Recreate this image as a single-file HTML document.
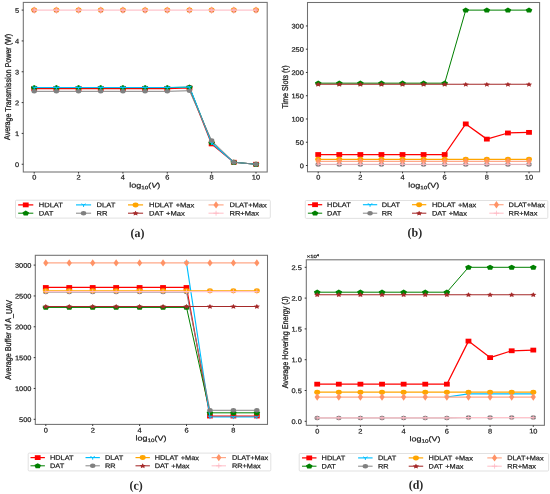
<!DOCTYPE html>
<html><head><meta charset="utf-8"><style>
html,body{margin:0;padding:0;background:#fff;width:550px;height:494px;overflow:hidden}
svg{display:block;text-rendering:geometricPrecision;will-change:transform}

</style></head><body>
<svg width="550" height="494" viewBox="0 0 550 494"><defs><filter id="bl" x="0" y="0" width="1" height="1"><feGaussianBlur stdDeviation="0.42"/></filter></defs><g filter="url(#bl)"><rect width="550" height="494" fill="#fff"/><rect x="23.3" y="2.4" width="243.9" height="169.6" fill="none" stroke="#707070" stroke-width="1.05"/>
<path d="M34.2,88.56 L56.38,88.56 L78.56,88.56 L100.74,88.56 L122.92,88.56 L145.1,88.56 L167.28,88.56 L189.46,87.95 L211.64,143.9 L233.82,162.25 L256,164.25" stroke="#ff0000" stroke-width="1.25" fill="none" stroke-linejoin="round"/>
<rect x="31.3" y="86.16" width="5.8" height="4.8" fill="#ff0000"/>
<rect x="53.48" y="86.16" width="5.8" height="4.8" fill="#ff0000"/>
<rect x="75.66" y="86.16" width="5.8" height="4.8" fill="#ff0000"/>
<rect x="97.84" y="86.16" width="5.8" height="4.8" fill="#ff0000"/>
<rect x="120.02" y="86.16" width="5.8" height="4.8" fill="#ff0000"/>
<rect x="142.2" y="86.16" width="5.8" height="4.8" fill="#ff0000"/>
<rect x="164.38" y="86.16" width="5.8" height="4.8" fill="#ff0000"/>
<rect x="186.56" y="85.55" width="5.8" height="4.8" fill="#ff0000"/>
<rect x="208.74" y="141.5" width="5.8" height="4.8" fill="#ff0000"/>
<rect x="230.92" y="159.85" width="5.8" height="4.8" fill="#ff0000"/>
<rect x="253.1" y="161.85" width="5.8" height="4.8" fill="#ff0000"/>
<path d="M34.2,87.64 L56.38,87.64 L78.56,87.64 L100.74,87.64 L122.92,87.64 L145.1,87.64 L167.28,87.64 L189.46,87.18 L211.64,142.67 L233.82,162.25 L256,164.25" stroke="#008000" stroke-width="1.0" fill="none" stroke-linejoin="round"/>
<polygon points="34.2,84.99 30.87,86.92 32.14,90.05 36.26,90.05 37.53,86.92" fill="#008000"/>
<polygon points="56.38,84.99 53.05,86.92 54.32,90.05 58.44,90.05 59.71,86.92" fill="#008000"/>
<polygon points="78.56,84.99 75.23,86.92 76.5,90.05 80.62,90.05 81.89,86.92" fill="#008000"/>
<polygon points="100.74,84.99 97.41,86.92 98.68,90.05 102.8,90.05 104.07,86.92" fill="#008000"/>
<polygon points="122.92,84.99 119.59,86.92 120.86,90.05 124.98,90.05 126.25,86.92" fill="#008000"/>
<polygon points="145.1,84.99 141.77,86.92 143.04,90.05 147.16,90.05 148.43,86.92" fill="#008000"/>
<polygon points="167.28,84.99 163.95,86.92 165.22,90.05 169.34,90.05 170.61,86.92" fill="#008000"/>
<polygon points="189.46,84.53 186.13,86.46 187.4,89.59 191.52,89.59 192.79,86.46" fill="#008000"/>
<polygon points="211.64,140.02 208.31,141.95 209.58,145.08 213.7,145.08 214.97,141.95" fill="#008000"/>
<polygon points="233.82,159.6 230.49,161.53 231.76,164.66 235.88,164.66 237.15,161.53" fill="#008000"/>
<polygon points="256,161.6 252.67,163.53 253.94,166.67 258.06,166.67 259.33,163.53" fill="#008000"/>
<path d="M34.2,87.48 L56.38,87.48 L78.56,87.48 L100.74,87.48 L122.92,87.48 L145.1,87.48 L167.28,87.48 L189.46,87.02 L211.64,142.98 L233.82,162.25 L256,164.25" stroke="#00bfff" stroke-width="1.15" fill="none" stroke-linejoin="round"/>
<path d="M34.2,87.48V89.56M34.2,87.48L31.95,86.44M34.2,87.48L36.45,86.44" stroke="#00bfff" stroke-width="1" fill="none"/>
<path d="M56.38,87.48V89.56M56.38,87.48L54.13,86.44M56.38,87.48L58.63,86.44" stroke="#00bfff" stroke-width="1" fill="none"/>
<path d="M78.56,87.48V89.56M78.56,87.48L76.31,86.44M78.56,87.48L80.81,86.44" stroke="#00bfff" stroke-width="1" fill="none"/>
<path d="M100.74,87.48V89.56M100.74,87.48L98.49,86.44M100.74,87.48L102.99,86.44" stroke="#00bfff" stroke-width="1" fill="none"/>
<path d="M122.92,87.48V89.56M122.92,87.48L120.67,86.44M122.92,87.48L125.17,86.44" stroke="#00bfff" stroke-width="1" fill="none"/>
<path d="M145.1,87.48V89.56M145.1,87.48L142.85,86.44M145.1,87.48L147.35,86.44" stroke="#00bfff" stroke-width="1" fill="none"/>
<path d="M167.28,87.48V89.56M167.28,87.48L165.03,86.44M167.28,87.48L169.53,86.44" stroke="#00bfff" stroke-width="1" fill="none"/>
<path d="M189.46,87.02V89.1M189.46,87.02L187.21,85.98M189.46,87.02L191.71,85.98" stroke="#00bfff" stroke-width="1" fill="none"/>
<path d="M211.64,142.98V145.06M211.64,142.98L209.39,141.94M211.64,142.98L213.89,141.94" stroke="#00bfff" stroke-width="1" fill="none"/>
<path d="M233.82,162.25V164.33M233.82,162.25L231.57,161.21M233.82,162.25L236.07,161.21" stroke="#00bfff" stroke-width="1" fill="none"/>
<path d="M256,164.25V166.33M256,164.25L253.75,163.21M256,164.25L258.25,163.21" stroke="#00bfff" stroke-width="1" fill="none"/>
<path d="M34.2,91.34 L56.38,91.34 L78.56,91.34 L100.74,91.34 L122.92,91.34 L145.1,91.34 L167.28,91.34 L189.46,90.72 L211.64,140.6 L233.82,162.25 L256,164.25" stroke="#808080" stroke-width="0.95" fill="none" stroke-linejoin="round"/>
<ellipse cx="34.2" cy="91.34" rx="2.7" ry="2.24" fill="#808080"/>
<ellipse cx="56.38" cy="91.34" rx="2.7" ry="2.24" fill="#808080"/>
<ellipse cx="78.56" cy="91.34" rx="2.7" ry="2.24" fill="#808080"/>
<ellipse cx="100.74" cy="91.34" rx="2.7" ry="2.24" fill="#808080"/>
<ellipse cx="122.92" cy="91.34" rx="2.7" ry="2.24" fill="#808080"/>
<ellipse cx="145.1" cy="91.34" rx="2.7" ry="2.24" fill="#808080"/>
<ellipse cx="167.28" cy="91.34" rx="2.7" ry="2.24" fill="#808080"/>
<ellipse cx="189.46" cy="90.72" rx="2.7" ry="2.24" fill="#808080"/>
<ellipse cx="211.64" cy="140.6" rx="2.7" ry="2.24" fill="#808080"/>
<ellipse cx="233.82" cy="162.25" rx="2.7" ry="2.24" fill="#808080"/>
<ellipse cx="256" cy="164.25" rx="2.7" ry="2.24" fill="#808080"/>
<ellipse cx="34.2" cy="10.1" rx="3" ry="2.49" fill="#ffa500"/>
<ellipse cx="56.38" cy="10.1" rx="3" ry="2.49" fill="#ffa500"/>
<ellipse cx="78.56" cy="10.1" rx="3" ry="2.49" fill="#ffa500"/>
<ellipse cx="100.74" cy="10.1" rx="3" ry="2.49" fill="#ffa500"/>
<ellipse cx="122.92" cy="10.1" rx="3" ry="2.49" fill="#ffa500"/>
<ellipse cx="145.1" cy="10.1" rx="3" ry="2.49" fill="#ffa500"/>
<ellipse cx="167.28" cy="10.1" rx="3" ry="2.49" fill="#ffa500"/>
<ellipse cx="189.46" cy="10.1" rx="3" ry="2.49" fill="#ffa500"/>
<ellipse cx="211.64" cy="10.1" rx="3" ry="2.49" fill="#ffa500"/>
<ellipse cx="233.82" cy="10.1" rx="3" ry="2.49" fill="#ffa500"/>
<ellipse cx="256" cy="10.1" rx="3" ry="2.49" fill="#ffa500"/>
<polygon points="34.2,7.66 33.23,9.23 31.06,9.48 32.63,10.71 32.26,12.44 34.2,11.62 36.14,12.44 35.77,10.71 37.34,9.48 35.17,9.23" fill="#a52a2a"/>
<polygon points="56.38,7.66 55.41,9.23 53.24,9.48 54.81,10.71 54.44,12.44 56.38,11.62 58.32,12.44 57.95,10.71 59.52,9.48 57.35,9.23" fill="#a52a2a"/>
<polygon points="78.56,7.66 77.59,9.23 75.42,9.48 76.99,10.71 76.62,12.44 78.56,11.62 80.5,12.44 80.13,10.71 81.7,9.48 79.53,9.23" fill="#a52a2a"/>
<polygon points="100.74,7.66 99.77,9.23 97.6,9.48 99.17,10.71 98.8,12.44 100.74,11.62 102.68,12.44 102.31,10.71 103.88,9.48 101.71,9.23" fill="#a52a2a"/>
<polygon points="122.92,7.66 121.95,9.23 119.78,9.48 121.35,10.71 120.98,12.44 122.92,11.62 124.86,12.44 124.49,10.71 126.06,9.48 123.89,9.23" fill="#a52a2a"/>
<polygon points="145.1,7.66 144.13,9.23 141.96,9.48 143.53,10.71 143.16,12.44 145.1,11.62 147.04,12.44 146.67,10.71 148.24,9.48 146.07,9.23" fill="#a52a2a"/>
<polygon points="167.28,7.66 166.31,9.23 164.14,9.48 165.71,10.71 165.34,12.44 167.28,11.62 169.22,12.44 168.85,10.71 170.42,9.48 168.25,9.23" fill="#a52a2a"/>
<polygon points="189.46,7.66 188.49,9.23 186.32,9.48 187.89,10.71 187.52,12.44 189.46,11.62 191.4,12.44 191.03,10.71 192.6,9.48 190.43,9.23" fill="#a52a2a"/>
<polygon points="211.64,7.66 210.67,9.23 208.5,9.48 210.07,10.71 209.7,12.44 211.64,11.62 213.58,12.44 213.21,10.71 214.78,9.48 212.61,9.23" fill="#a52a2a"/>
<polygon points="233.82,7.66 232.85,9.23 230.68,9.48 232.25,10.71 231.88,12.44 233.82,11.62 235.76,12.44 235.39,10.71 236.96,9.48 234.79,9.23" fill="#a52a2a"/>
<polygon points="256,7.66 255.03,9.23 252.86,9.48 254.43,10.71 254.06,12.44 256,11.62 257.94,12.44 257.57,10.71 259.14,9.48 256.97,9.23" fill="#a52a2a"/>
<polygon points="34.2,6.4 36.8,10.1 34.2,13.8 31.6,10.1" fill="#ff9366"/>
<polygon points="56.38,6.4 58.98,10.1 56.38,13.8 53.78,10.1" fill="#ff9366"/>
<polygon points="78.56,6.4 81.16,10.1 78.56,13.8 75.96,10.1" fill="#ff9366"/>
<polygon points="100.74,6.4 103.34,10.1 100.74,13.8 98.14,10.1" fill="#ff9366"/>
<polygon points="122.92,6.4 125.52,10.1 122.92,13.8 120.32,10.1" fill="#ff9366"/>
<polygon points="145.1,6.4 147.7,10.1 145.1,13.8 142.5,10.1" fill="#ff9366"/>
<polygon points="167.28,6.4 169.88,10.1 167.28,13.8 164.68,10.1" fill="#ff9366"/>
<polygon points="189.46,6.4 192.06,10.1 189.46,13.8 186.86,10.1" fill="#ff9366"/>
<polygon points="211.64,6.4 214.24,10.1 211.64,13.8 209.04,10.1" fill="#ff9366"/>
<polygon points="233.82,6.4 236.42,10.1 233.82,13.8 231.22,10.1" fill="#ff9366"/>
<polygon points="256,6.4 258.6,10.1 256,13.8 253.4,10.1" fill="#ff9366"/>
<path d="M34.2,10.1 L56.38,10.1 L78.56,10.1 L100.74,10.1 L122.92,10.1 L145.1,10.1 L167.28,10.1 L189.46,10.1 L211.64,10.1 L233.82,10.1 L256,10.1" stroke="#ffc4cc" stroke-width="1.1" fill="none" stroke-linejoin="round"/>
<path d="M31.5,10.1H36.9M34.2,7.6V12.6" stroke="#ffb6c1" stroke-width="0.75" fill="none"/>
<path d="M53.68,10.1H59.08M56.38,7.6V12.6" stroke="#ffb6c1" stroke-width="0.75" fill="none"/>
<path d="M75.86,10.1H81.26M78.56,7.6V12.6" stroke="#ffb6c1" stroke-width="0.75" fill="none"/>
<path d="M98.04,10.1H103.44M100.74,7.6V12.6" stroke="#ffb6c1" stroke-width="0.75" fill="none"/>
<path d="M120.22,10.1H125.62M122.92,7.6V12.6" stroke="#ffb6c1" stroke-width="0.75" fill="none"/>
<path d="M142.4,10.1H147.8M145.1,7.6V12.6" stroke="#ffb6c1" stroke-width="0.75" fill="none"/>
<path d="M164.58,10.1H169.98M167.28,7.6V12.6" stroke="#ffb6c1" stroke-width="0.75" fill="none"/>
<path d="M186.76,10.1H192.16M189.46,7.6V12.6" stroke="#ffb6c1" stroke-width="0.75" fill="none"/>
<path d="M208.94,10.1H214.34M211.64,7.6V12.6" stroke="#ffb6c1" stroke-width="0.75" fill="none"/>
<path d="M231.12,10.1H236.52M233.82,7.6V12.6" stroke="#ffb6c1" stroke-width="0.75" fill="none"/>
<path d="M253.3,10.1H258.7M256,7.6V12.6" stroke="#ffb6c1" stroke-width="0.75" fill="none"/>
<line x1="34.2" y1="172" x2="34.2" y2="173.6" stroke="#222" stroke-width="0.9"/>
<text transform="translate(34.2,179.5) skewY(0.5) scale(0.1060,0.0960)" font-family="Liberation Sans" font-size="70" font-weight="normal" text-anchor="middle" fill="#222" stroke="#222" stroke-width="2.2">0</text>
<line x1="78.56" y1="172" x2="78.56" y2="173.6" stroke="#222" stroke-width="0.9"/>
<text transform="translate(78.56,179.5) skewY(0.5) scale(0.1060,0.0960)" font-family="Liberation Sans" font-size="70" font-weight="normal" text-anchor="middle" fill="#222" stroke="#222" stroke-width="2.2">2</text>
<line x1="122.92" y1="172" x2="122.92" y2="173.6" stroke="#222" stroke-width="0.9"/>
<text transform="translate(122.92,179.5) skewY(0.5) scale(0.1060,0.0960)" font-family="Liberation Sans" font-size="70" font-weight="normal" text-anchor="middle" fill="#222" stroke="#222" stroke-width="2.2">4</text>
<line x1="167.28" y1="172" x2="167.28" y2="173.6" stroke="#222" stroke-width="0.9"/>
<text transform="translate(167.28,179.5) skewY(0.5) scale(0.1060,0.0960)" font-family="Liberation Sans" font-size="70" font-weight="normal" text-anchor="middle" fill="#222" stroke="#222" stroke-width="2.2">6</text>
<line x1="211.64" y1="172" x2="211.64" y2="173.6" stroke="#222" stroke-width="0.9"/>
<text transform="translate(211.64,179.5) skewY(0.5) scale(0.1060,0.0960)" font-family="Liberation Sans" font-size="70" font-weight="normal" text-anchor="middle" fill="#222" stroke="#222" stroke-width="2.2">8</text>
<line x1="256" y1="172" x2="256" y2="173.6" stroke="#222" stroke-width="0.9"/>
<text transform="translate(256,179.5) skewY(0.5) scale(0.1060,0.0960)" font-family="Liberation Sans" font-size="70" font-weight="normal" text-anchor="middle" fill="#222" stroke="#222" stroke-width="2.2">10</text>
<line x1="23.3" y1="164.25" x2="21.7" y2="164.25" stroke="#222" stroke-width="0.9"/>
<text transform="translate(19.2,166.95) skewY(0.5) scale(0.1060,0.0960)" font-family="Liberation Sans" font-size="70" font-weight="normal" text-anchor="end" fill="#222" stroke="#222" stroke-width="2.2">0</text>
<line x1="23.3" y1="133.42" x2="21.7" y2="133.42" stroke="#222" stroke-width="0.9"/>
<text transform="translate(19.2,136.12) skewY(0.5) scale(0.1060,0.0960)" font-family="Liberation Sans" font-size="70" font-weight="normal" text-anchor="end" fill="#222" stroke="#222" stroke-width="2.2">1</text>
<line x1="23.3" y1="102.59" x2="21.7" y2="102.59" stroke="#222" stroke-width="0.9"/>
<text transform="translate(19.2,105.29) skewY(0.5) scale(0.1060,0.0960)" font-family="Liberation Sans" font-size="70" font-weight="normal" text-anchor="end" fill="#222" stroke="#222" stroke-width="2.2">2</text>
<line x1="23.3" y1="71.76" x2="21.7" y2="71.76" stroke="#222" stroke-width="0.9"/>
<text transform="translate(19.2,74.46) skewY(0.5) scale(0.1060,0.0960)" font-family="Liberation Sans" font-size="70" font-weight="normal" text-anchor="end" fill="#222" stroke="#222" stroke-width="2.2">3</text>
<line x1="23.3" y1="40.93" x2="21.7" y2="40.93" stroke="#222" stroke-width="0.9"/>
<text transform="translate(19.2,43.63) skewY(0.5) scale(0.1060,0.0960)" font-family="Liberation Sans" font-size="70" font-weight="normal" text-anchor="end" fill="#222" stroke="#222" stroke-width="2.2">4</text>
<line x1="23.3" y1="10.1" x2="21.7" y2="10.1" stroke="#222" stroke-width="0.9"/>
<text transform="translate(19.2,12.8) skewY(0.5) scale(0.1060,0.0960)" font-family="Liberation Sans" font-size="70" font-weight="normal" text-anchor="end" fill="#222" stroke="#222" stroke-width="2.2">5</text>
<text transform="translate(10.7,86.9) rotate(-89.7) scale(0.0840,0.1000)" font-family="Liberation Sans" font-size="85" font-weight="normal" text-anchor="middle" fill="#222" stroke="#222" stroke-width="3">Average Transmission Power (W)</text>
<text transform="translate(144.8,187.7) skewY(0.5) scale(0.1200,0.0950)" font-family="Liberation Sans" font-size="75" font-weight="normal" text-anchor="middle" fill="#222" stroke="#222" stroke-width="2.2">log<tspan font-size="52.5" dy="16">10</tspan><tspan dy="-16">(</tspan><tspan font-style="italic">V</tspan>)</text>
<rect x="15.5" y="200.2" width="254.8" height="17.9" fill="#fff" stroke="#d9d9d9" stroke-width="0.8" rx="1"/>
<line x1="18.2" y1="204.9" x2="33.3" y2="204.9" stroke="#ff0000" stroke-width="1.25"/>
<rect x="22.85" y="202.5" width="5.8" height="4.8" fill="#ff0000"/>
<text transform="translate(38.8,207.1) skewY(0.5) scale(0.1090,0.0950)" font-family="Liberation Sans" font-size="69" font-weight="normal" text-anchor="start" fill="#222" stroke="#222" stroke-width="2.2">HDLAT</text>
<line x1="18.2" y1="213.2" x2="33.3" y2="213.2" stroke="#008000" stroke-width="1.0"/>
<polygon points="25.75,210.55 22.42,212.48 23.69,215.62 27.81,215.62 29.08,212.48" fill="#008000"/>
<text transform="translate(38.8,215.4) skewY(0.5) scale(0.1090,0.0950)" font-family="Liberation Sans" font-size="69" font-weight="normal" text-anchor="start" fill="#222" stroke="#222" stroke-width="2.2">DAT</text>
<line x1="76" y1="204.9" x2="91.1" y2="204.9" stroke="#00bfff" stroke-width="1.15"/>
<path d="M83.55,204.9V206.98M83.55,204.9L81.3,203.86M83.55,204.9L85.8,203.86" stroke="#00bfff" stroke-width="1" fill="none"/>
<text transform="translate(96.6,207.1) skewY(0.5) scale(0.1090,0.0950)" font-family="Liberation Sans" font-size="69" font-weight="normal" text-anchor="start" fill="#222" stroke="#222" stroke-width="2.2">DLAT</text>
<line x1="76" y1="213.2" x2="91.1" y2="213.2" stroke="#808080" stroke-width="0.95"/>
<ellipse cx="83.55" cy="213.2" rx="2.7" ry="2.24" fill="#808080"/>
<text transform="translate(96.6,215.4) skewY(0.5) scale(0.1090,0.0950)" font-family="Liberation Sans" font-size="69" font-weight="normal" text-anchor="start" fill="#222" stroke="#222" stroke-width="2.2">RR</text>
<line x1="128" y1="204.9" x2="143.1" y2="204.9" stroke="#ffa500" stroke-width="1.2"/>
<ellipse cx="135.55" cy="204.9" rx="3" ry="2.49" fill="#ffa500"/>
<text transform="translate(149,207.1) skewY(0.5) scale(0.1090,0.0950)" font-family="Liberation Sans" font-size="69" font-weight="normal" text-anchor="start" fill="#222" stroke="#222" stroke-width="2.2">HDLAT  +Max</text>
<line x1="128" y1="213.2" x2="143.1" y2="213.2" stroke="#a52a2a" stroke-width="1.05"/>
<polygon points="135.55,210.76 134.58,212.33 132.41,212.58 133.98,213.81 133.61,215.54 135.55,214.72 137.49,215.54 137.12,213.81 138.69,212.58 136.52,212.33" fill="#a52a2a"/>
<text transform="translate(149,215.4) skewY(0.5) scale(0.1090,0.0950)" font-family="Liberation Sans" font-size="69" font-weight="normal" text-anchor="start" fill="#222" stroke="#222" stroke-width="2.2">DAT  +Max</text>
<line x1="208.5" y1="204.9" x2="223.6" y2="204.9" stroke="#ffa888" stroke-width="1.2"/>
<polygon points="216.05,201.2 218.65,204.9 216.05,208.6 213.45,204.9" fill="#ff9366"/>
<text transform="translate(229.5,207.1) skewY(0.5) scale(0.1090,0.0950)" font-family="Liberation Sans" font-size="69" font-weight="normal" text-anchor="start" fill="#222" stroke="#222" stroke-width="2.2">DLAT+Max</text>
<line x1="208.5" y1="213.2" x2="223.6" y2="213.2" stroke="#ffc4cc" stroke-width="1.1"/>
<path d="M213.35,213.2H218.75M216.05,210.7V215.7" stroke="#ffb6c1" stroke-width="0.75" fill="none"/>
<text transform="translate(229.5,215.4) skewY(0.5) scale(0.1090,0.0950)" font-family="Liberation Sans" font-size="69" font-weight="normal" text-anchor="start" fill="#222" stroke="#222" stroke-width="2.2">RR+Max</text>
<text transform="translate(137.6,237) skewY(0.5) scale(0.1000,0.1030)" font-family="Liberation Serif" font-size="120" font-weight="bold" text-anchor="middle" fill="#2a2a2a">(a)</text>
<rect x="307.5" y="2.5" width="232.1" height="169.3" fill="none" stroke="#707070" stroke-width="1.05"/>
<path d="M318.2,154.52 L339.28,154.52 L360.36,154.52 L381.44,154.52 L402.52,154.52 L423.6,154.52 L444.68,154.52 L465.76,123.91 L486.84,139.12 L507.92,132.98 L529,132.38" stroke="#ff0000" stroke-width="1.25" fill="none" stroke-linejoin="round"/>
<rect x="315.3" y="152.12" width="5.8" height="4.8" fill="#ff0000"/>
<rect x="336.38" y="152.12" width="5.8" height="4.8" fill="#ff0000"/>
<rect x="357.46" y="152.12" width="5.8" height="4.8" fill="#ff0000"/>
<rect x="378.54" y="152.12" width="5.8" height="4.8" fill="#ff0000"/>
<rect x="399.62" y="152.12" width="5.8" height="4.8" fill="#ff0000"/>
<rect x="420.7" y="152.12" width="5.8" height="4.8" fill="#ff0000"/>
<rect x="441.78" y="152.12" width="5.8" height="4.8" fill="#ff0000"/>
<rect x="462.86" y="121.51" width="5.8" height="4.8" fill="#ff0000"/>
<rect x="483.94" y="136.72" width="5.8" height="4.8" fill="#ff0000"/>
<rect x="505.02" y="130.58" width="5.8" height="4.8" fill="#ff0000"/>
<rect x="526.1" y="129.98" width="5.8" height="4.8" fill="#ff0000"/>
<path d="M318.2,83.16 L339.28,83.16 L360.36,83.16 L381.44,83.16 L402.52,83.16 L423.6,83.16 L444.68,83.16 L465.76,10.12 L486.84,10.12 L507.92,10.12 L529,10.12" stroke="#008000" stroke-width="1.0" fill="none" stroke-linejoin="round"/>
<polygon points="318.2,80.51 314.87,82.44 316.14,85.57 320.26,85.57 321.53,82.44" fill="#008000"/>
<polygon points="339.28,80.51 335.95,82.44 337.22,85.57 341.34,85.57 342.61,82.44" fill="#008000"/>
<polygon points="360.36,80.51 357.03,82.44 358.3,85.57 362.42,85.57 363.69,82.44" fill="#008000"/>
<polygon points="381.44,80.51 378.11,82.44 379.38,85.57 383.5,85.57 384.77,82.44" fill="#008000"/>
<polygon points="402.52,80.51 399.19,82.44 400.46,85.57 404.58,85.57 405.85,82.44" fill="#008000"/>
<polygon points="423.6,80.51 420.27,82.44 421.54,85.57 425.66,85.57 426.93,82.44" fill="#008000"/>
<polygon points="444.68,80.51 441.35,82.44 442.62,85.57 446.74,85.57 448.01,82.44" fill="#008000"/>
<polygon points="465.76,7.47 462.43,9.41 463.7,12.54 467.82,12.54 469.09,9.41" fill="#008000"/>
<polygon points="486.84,7.47 483.51,9.41 484.78,12.54 488.9,12.54 490.17,9.41" fill="#008000"/>
<polygon points="507.92,7.47 504.59,9.41 505.86,12.54 509.98,12.54 511.25,9.41" fill="#008000"/>
<polygon points="529,7.47 525.67,9.41 526.94,12.54 531.06,12.54 532.33,9.41" fill="#008000"/>
<path d="M318.2,164.29V166.37M318.2,164.29L315.95,163.25M318.2,164.29L320.45,163.25" stroke="#00bfff" stroke-width="1" fill="none"/>
<path d="M339.28,164.29V166.37M339.28,164.29L337.03,163.25M339.28,164.29L341.53,163.25" stroke="#00bfff" stroke-width="1" fill="none"/>
<path d="M360.36,164.29V166.37M360.36,164.29L358.11,163.25M360.36,164.29L362.61,163.25" stroke="#00bfff" stroke-width="1" fill="none"/>
<path d="M381.44,164.29V166.37M381.44,164.29L379.19,163.25M381.44,164.29L383.69,163.25" stroke="#00bfff" stroke-width="1" fill="none"/>
<path d="M402.52,164.29V166.37M402.52,164.29L400.27,163.25M402.52,164.29L404.77,163.25" stroke="#00bfff" stroke-width="1" fill="none"/>
<path d="M423.6,164.29V166.37M423.6,164.29L421.35,163.25M423.6,164.29L425.85,163.25" stroke="#00bfff" stroke-width="1" fill="none"/>
<path d="M444.68,164.29V166.37M444.68,164.29L442.43,163.25M444.68,164.29L446.93,163.25" stroke="#00bfff" stroke-width="1" fill="none"/>
<path d="M465.76,164.29V166.37M465.76,164.29L463.51,163.25M465.76,164.29L468.01,163.25" stroke="#00bfff" stroke-width="1" fill="none"/>
<path d="M486.84,164.29V166.37M486.84,164.29L484.59,163.25M486.84,164.29L489.09,163.25" stroke="#00bfff" stroke-width="1" fill="none"/>
<path d="M507.92,164.29V166.37M507.92,164.29L505.67,163.25M507.92,164.29L510.17,163.25" stroke="#00bfff" stroke-width="1" fill="none"/>
<path d="M529,164.29V166.37M529,164.29L526.75,163.25M529,164.29L531.25,163.25" stroke="#00bfff" stroke-width="1" fill="none"/>
<path d="M318.2,164.52 L339.28,164.52 L360.36,164.52 L381.44,164.52 L402.52,164.52 L423.6,164.52 L444.68,164.52 L465.76,164.52 L486.84,164.52 L507.92,164.52 L529,164.52" stroke="#808080" stroke-width="0.95" fill="none" stroke-linejoin="round"/>
<ellipse cx="318.2" cy="164.52" rx="2.7" ry="2.24" fill="#808080"/>
<ellipse cx="339.28" cy="164.52" rx="2.7" ry="2.24" fill="#808080"/>
<ellipse cx="360.36" cy="164.52" rx="2.7" ry="2.24" fill="#808080"/>
<ellipse cx="381.44" cy="164.52" rx="2.7" ry="2.24" fill="#808080"/>
<ellipse cx="402.52" cy="164.52" rx="2.7" ry="2.24" fill="#808080"/>
<ellipse cx="423.6" cy="164.52" rx="2.7" ry="2.24" fill="#808080"/>
<ellipse cx="444.68" cy="164.52" rx="2.7" ry="2.24" fill="#808080"/>
<ellipse cx="465.76" cy="164.52" rx="2.7" ry="2.24" fill="#808080"/>
<ellipse cx="486.84" cy="164.52" rx="2.7" ry="2.24" fill="#808080"/>
<ellipse cx="507.92" cy="164.52" rx="2.7" ry="2.24" fill="#808080"/>
<ellipse cx="529" cy="164.52" rx="2.7" ry="2.24" fill="#808080"/>
<path d="M318.2,159.31 L339.28,159.31 L360.36,159.31 L381.44,159.31 L402.52,159.31 L423.6,159.31 L444.68,159.31 L465.76,159.31 L486.84,159.31 L507.92,159.31 L529,159.31" stroke="#ffa500" stroke-width="1.2" fill="none" stroke-linejoin="round"/>
<ellipse cx="318.2" cy="159.31" rx="3" ry="2.49" fill="#ffa500"/>
<ellipse cx="339.28" cy="159.31" rx="3" ry="2.49" fill="#ffa500"/>
<ellipse cx="360.36" cy="159.31" rx="3" ry="2.49" fill="#ffa500"/>
<ellipse cx="381.44" cy="159.31" rx="3" ry="2.49" fill="#ffa500"/>
<ellipse cx="402.52" cy="159.31" rx="3" ry="2.49" fill="#ffa500"/>
<ellipse cx="423.6" cy="159.31" rx="3" ry="2.49" fill="#ffa500"/>
<ellipse cx="444.68" cy="159.31" rx="3" ry="2.49" fill="#ffa500"/>
<ellipse cx="465.76" cy="159.31" rx="3" ry="2.49" fill="#ffa500"/>
<ellipse cx="486.84" cy="159.31" rx="3" ry="2.49" fill="#ffa500"/>
<ellipse cx="507.92" cy="159.31" rx="3" ry="2.49" fill="#ffa500"/>
<ellipse cx="529" cy="159.31" rx="3" ry="2.49" fill="#ffa500"/>
<path d="M318.2,84.32 L339.28,84.32 L360.36,84.32 L381.44,84.32 L402.52,84.32 L423.6,84.32 L444.68,84.32 L465.76,84.32 L486.84,84.32 L507.92,84.32 L529,84.32" stroke="#a52a2a" stroke-width="1.05" fill="none" stroke-linejoin="round"/>
<polygon points="318.2,81.88 317.23,83.45 315.06,83.71 316.63,84.93 316.26,86.66 318.2,85.84 320.14,86.66 319.77,84.93 321.34,83.71 319.17,83.45" fill="#a52a2a"/>
<polygon points="339.28,81.88 338.31,83.45 336.14,83.71 337.71,84.93 337.34,86.66 339.28,85.84 341.22,86.66 340.85,84.93 342.42,83.71 340.25,83.45" fill="#a52a2a"/>
<polygon points="360.36,81.88 359.39,83.45 357.22,83.71 358.79,84.93 358.42,86.66 360.36,85.84 362.3,86.66 361.93,84.93 363.5,83.71 361.33,83.45" fill="#a52a2a"/>
<polygon points="381.44,81.88 380.47,83.45 378.3,83.71 379.87,84.93 379.5,86.66 381.44,85.84 383.38,86.66 383.01,84.93 384.58,83.71 382.41,83.45" fill="#a52a2a"/>
<polygon points="402.52,81.88 401.55,83.45 399.38,83.71 400.95,84.93 400.58,86.66 402.52,85.84 404.46,86.66 404.09,84.93 405.66,83.71 403.49,83.45" fill="#a52a2a"/>
<polygon points="423.6,81.88 422.63,83.45 420.46,83.71 422.03,84.93 421.66,86.66 423.6,85.84 425.54,86.66 425.17,84.93 426.74,83.71 424.57,83.45" fill="#a52a2a"/>
<polygon points="444.68,81.88 443.71,83.45 441.54,83.71 443.11,84.93 442.74,86.66 444.68,85.84 446.62,86.66 446.25,84.93 447.82,83.71 445.65,83.45" fill="#a52a2a"/>
<polygon points="465.76,81.88 464.79,83.45 462.62,83.71 464.19,84.93 463.82,86.66 465.76,85.84 467.7,86.66 467.33,84.93 468.9,83.71 466.73,83.45" fill="#a52a2a"/>
<polygon points="486.84,81.88 485.87,83.45 483.7,83.71 485.27,84.93 484.9,86.66 486.84,85.84 488.78,86.66 488.41,84.93 489.98,83.71 487.81,83.45" fill="#a52a2a"/>
<polygon points="507.92,81.88 506.95,83.45 504.78,83.71 506.35,84.93 505.98,86.66 507.92,85.84 509.86,86.66 509.49,84.93 511.06,83.71 508.89,83.45" fill="#a52a2a"/>
<polygon points="529,81.88 528.03,83.45 525.86,83.71 527.43,84.93 527.06,86.66 529,85.84 530.94,86.66 530.57,84.93 532.14,83.71 529.97,83.45" fill="#a52a2a"/>
<path d="M318.2,161.41 L339.28,161.41 L360.36,161.41 L381.44,161.41 L402.52,161.41 L423.6,161.41 L444.68,161.41 L465.76,161.41 L486.84,161.41 L507.92,161.41 L529,161.41" stroke="#ffa888" stroke-width="1.2" fill="none" stroke-linejoin="round"/>
<polygon points="318.2,157.71 320.8,161.41 318.2,165.11 315.6,161.41" fill="#ff9366"/>
<polygon points="339.28,157.71 341.88,161.41 339.28,165.11 336.68,161.41" fill="#ff9366"/>
<polygon points="360.36,157.71 362.96,161.41 360.36,165.11 357.76,161.41" fill="#ff9366"/>
<polygon points="381.44,157.71 384.04,161.41 381.44,165.11 378.84,161.41" fill="#ff9366"/>
<polygon points="402.52,157.71 405.12,161.41 402.52,165.11 399.92,161.41" fill="#ff9366"/>
<polygon points="423.6,157.71 426.2,161.41 423.6,165.11 421,161.41" fill="#ff9366"/>
<polygon points="444.68,157.71 447.28,161.41 444.68,165.11 442.08,161.41" fill="#ff9366"/>
<polygon points="465.76,157.71 468.36,161.41 465.76,165.11 463.16,161.41" fill="#ff9366"/>
<polygon points="486.84,157.71 489.44,161.41 486.84,165.11 484.24,161.41" fill="#ff9366"/>
<polygon points="507.92,157.71 510.52,161.41 507.92,165.11 505.32,161.41" fill="#ff9366"/>
<polygon points="529,157.71 531.6,161.41 529,165.11 526.4,161.41" fill="#ff9366"/>
<path d="M318.2,164.29 L339.28,164.29 L360.36,164.29 L381.44,164.29 L402.52,164.29 L423.6,164.29 L444.68,164.29 L465.76,164.29 L486.84,164.29 L507.92,164.29 L529,164.29" stroke="#ffc4cc" stroke-width="1.1" fill="none" stroke-linejoin="round"/>
<path d="M315.5,164.29H320.9M318.2,161.79V166.79" stroke="#ffb6c1" stroke-width="0.75" fill="none"/>
<path d="M336.58,164.29H341.98M339.28,161.79V166.79" stroke="#ffb6c1" stroke-width="0.75" fill="none"/>
<path d="M357.66,164.29H363.06M360.36,161.79V166.79" stroke="#ffb6c1" stroke-width="0.75" fill="none"/>
<path d="M378.74,164.29H384.14M381.44,161.79V166.79" stroke="#ffb6c1" stroke-width="0.75" fill="none"/>
<path d="M399.82,164.29H405.22M402.52,161.79V166.79" stroke="#ffb6c1" stroke-width="0.75" fill="none"/>
<path d="M420.9,164.29H426.3M423.6,161.79V166.79" stroke="#ffb6c1" stroke-width="0.75" fill="none"/>
<path d="M441.98,164.29H447.38M444.68,161.79V166.79" stroke="#ffb6c1" stroke-width="0.75" fill="none"/>
<path d="M463.06,164.29H468.46M465.76,161.79V166.79" stroke="#ffb6c1" stroke-width="0.75" fill="none"/>
<path d="M484.14,164.29H489.54M486.84,161.79V166.79" stroke="#ffb6c1" stroke-width="0.75" fill="none"/>
<path d="M505.22,164.29H510.62M507.92,161.79V166.79" stroke="#ffb6c1" stroke-width="0.75" fill="none"/>
<path d="M526.3,164.29H531.7M529,161.79V166.79" stroke="#ffb6c1" stroke-width="0.75" fill="none"/>
<line x1="318.2" y1="171.8" x2="318.2" y2="173.4" stroke="#222" stroke-width="0.9"/>
<text transform="translate(318.2,179.5) skewY(0.5) scale(0.1060,0.0960)" font-family="Liberation Sans" font-size="70" font-weight="normal" text-anchor="middle" fill="#222" stroke="#222" stroke-width="2.2">0</text>
<line x1="360.36" y1="171.8" x2="360.36" y2="173.4" stroke="#222" stroke-width="0.9"/>
<text transform="translate(360.36,179.5) skewY(0.5) scale(0.1060,0.0960)" font-family="Liberation Sans" font-size="70" font-weight="normal" text-anchor="middle" fill="#222" stroke="#222" stroke-width="2.2">2</text>
<line x1="402.52" y1="171.8" x2="402.52" y2="173.4" stroke="#222" stroke-width="0.9"/>
<text transform="translate(402.52,179.5) skewY(0.5) scale(0.1060,0.0960)" font-family="Liberation Sans" font-size="70" font-weight="normal" text-anchor="middle" fill="#222" stroke="#222" stroke-width="2.2">4</text>
<line x1="444.68" y1="171.8" x2="444.68" y2="173.4" stroke="#222" stroke-width="0.9"/>
<text transform="translate(444.68,179.5) skewY(0.5) scale(0.1060,0.0960)" font-family="Liberation Sans" font-size="70" font-weight="normal" text-anchor="middle" fill="#222" stroke="#222" stroke-width="2.2">6</text>
<line x1="486.84" y1="171.8" x2="486.84" y2="173.4" stroke="#222" stroke-width="0.9"/>
<text transform="translate(486.84,179.5) skewY(0.5) scale(0.1060,0.0960)" font-family="Liberation Sans" font-size="70" font-weight="normal" text-anchor="middle" fill="#222" stroke="#222" stroke-width="2.2">8</text>
<line x1="529" y1="171.8" x2="529" y2="173.4" stroke="#222" stroke-width="0.9"/>
<text transform="translate(529,179.5) skewY(0.5) scale(0.1060,0.0960)" font-family="Liberation Sans" font-size="70" font-weight="normal" text-anchor="middle" fill="#222" stroke="#222" stroke-width="2.2">10</text>
<line x1="307.5" y1="165.5" x2="305.9" y2="165.5" stroke="#222" stroke-width="0.9"/>
<text transform="translate(303.8,168.2) skewY(0.5) scale(0.1060,0.0960)" font-family="Liberation Sans" font-size="70" font-weight="normal" text-anchor="end" fill="#222" stroke="#222" stroke-width="2.2">0</text>
<line x1="307.5" y1="142.24" x2="305.9" y2="142.24" stroke="#222" stroke-width="0.9"/>
<text transform="translate(303.8,144.94) skewY(0.5) scale(0.1060,0.0960)" font-family="Liberation Sans" font-size="70" font-weight="normal" text-anchor="end" fill="#222" stroke="#222" stroke-width="2.2">50</text>
<line x1="307.5" y1="118.98" x2="305.9" y2="118.98" stroke="#222" stroke-width="0.9"/>
<text transform="translate(303.8,121.68) skewY(0.5) scale(0.1060,0.0960)" font-family="Liberation Sans" font-size="70" font-weight="normal" text-anchor="end" fill="#222" stroke="#222" stroke-width="2.2">100</text>
<line x1="307.5" y1="95.72" x2="305.9" y2="95.72" stroke="#222" stroke-width="0.9"/>
<text transform="translate(303.8,98.42) skewY(0.5) scale(0.1060,0.0960)" font-family="Liberation Sans" font-size="70" font-weight="normal" text-anchor="end" fill="#222" stroke="#222" stroke-width="2.2">150</text>
<line x1="307.5" y1="72.46" x2="305.9" y2="72.46" stroke="#222" stroke-width="0.9"/>
<text transform="translate(303.8,75.16) skewY(0.5) scale(0.1060,0.0960)" font-family="Liberation Sans" font-size="70" font-weight="normal" text-anchor="end" fill="#222" stroke="#222" stroke-width="2.2">200</text>
<line x1="307.5" y1="49.2" x2="305.9" y2="49.2" stroke="#222" stroke-width="0.9"/>
<text transform="translate(303.8,51.9) skewY(0.5) scale(0.1060,0.0960)" font-family="Liberation Sans" font-size="70" font-weight="normal" text-anchor="end" fill="#222" stroke="#222" stroke-width="2.2">250</text>
<line x1="307.5" y1="25.94" x2="305.9" y2="25.94" stroke="#222" stroke-width="0.9"/>
<text transform="translate(303.8,28.64) skewY(0.5) scale(0.1060,0.0960)" font-family="Liberation Sans" font-size="70" font-weight="normal" text-anchor="end" fill="#222" stroke="#222" stroke-width="2.2">300</text>
<text transform="translate(287.7,87) rotate(-89.7) scale(0.0840,0.1000)" font-family="Liberation Sans" font-size="85" font-weight="normal" text-anchor="middle" fill="#222" stroke="#222" stroke-width="3">Time Slots (τ)</text>
<text transform="translate(423.7,187.7) skewY(0.5) scale(0.1200,0.0950)" font-family="Liberation Sans" font-size="75" font-weight="normal" text-anchor="middle" fill="#222" stroke="#222" stroke-width="2.2">log<tspan font-size="52.5" dy="16">10</tspan><tspan dy="-16">(</tspan>V)</text>
<rect x="305.3" y="200.5" width="242.5" height="17.9" fill="#fff" stroke="#d9d9d9" stroke-width="0.8" rx="1"/>
<line x1="307.9" y1="204.7" x2="322.2" y2="204.7" stroke="#ff0000" stroke-width="1.25"/>
<rect x="312.15" y="202.3" width="5.8" height="4.8" fill="#ff0000"/>
<text transform="translate(327.1,206.9) skewY(0.5) scale(0.1080,0.0950)" font-family="Liberation Sans" font-size="68" font-weight="normal" text-anchor="start" fill="#222" stroke="#222" stroke-width="2.2">HDLAT</text>
<line x1="307.9" y1="213.2" x2="322.2" y2="213.2" stroke="#008000" stroke-width="1.0"/>
<polygon points="315.05,210.55 311.72,212.48 312.99,215.62 317.11,215.62 318.38,212.48" fill="#008000"/>
<text transform="translate(327.1,215.4) skewY(0.5) scale(0.1080,0.0950)" font-family="Liberation Sans" font-size="68" font-weight="normal" text-anchor="start" fill="#222" stroke="#222" stroke-width="2.2">DAT</text>
<line x1="362.9" y1="204.7" x2="377.2" y2="204.7" stroke="#00bfff" stroke-width="1.15"/>
<path d="M370.05,204.7V206.78M370.05,204.7L367.8,203.66M370.05,204.7L372.3,203.66" stroke="#00bfff" stroke-width="1" fill="none"/>
<text transform="translate(381.7,206.9) skewY(0.5) scale(0.1080,0.0950)" font-family="Liberation Sans" font-size="68" font-weight="normal" text-anchor="start" fill="#222" stroke="#222" stroke-width="2.2">DLAT</text>
<line x1="362.9" y1="213.2" x2="377.2" y2="213.2" stroke="#808080" stroke-width="0.95"/>
<ellipse cx="370.05" cy="213.2" rx="2.7" ry="2.24" fill="#808080"/>
<text transform="translate(381.7,215.4) skewY(0.5) scale(0.1080,0.0950)" font-family="Liberation Sans" font-size="68" font-weight="normal" text-anchor="start" fill="#222" stroke="#222" stroke-width="2.2">RR</text>
<line x1="412" y1="204.7" x2="426.3" y2="204.7" stroke="#ffa500" stroke-width="1.2"/>
<ellipse cx="419.15" cy="204.7" rx="3" ry="2.49" fill="#ffa500"/>
<text transform="translate(432,206.9) skewY(0.5) scale(0.1080,0.0950)" font-family="Liberation Sans" font-size="68" font-weight="normal" text-anchor="start" fill="#222" stroke="#222" stroke-width="2.2">HDLAT  +Max</text>
<line x1="412" y1="213.2" x2="426.3" y2="213.2" stroke="#a52a2a" stroke-width="1.05"/>
<polygon points="419.15,210.76 418.18,212.33 416.01,212.58 417.58,213.81 417.21,215.54 419.15,214.72 421.09,215.54 420.72,213.81 422.29,212.58 420.12,212.33" fill="#a52a2a"/>
<text transform="translate(432,215.4) skewY(0.5) scale(0.1080,0.0950)" font-family="Liberation Sans" font-size="68" font-weight="normal" text-anchor="start" fill="#222" stroke="#222" stroke-width="2.2">DAT  +Max</text>
<line x1="489.3" y1="204.7" x2="503.6" y2="204.7" stroke="#ffa888" stroke-width="1.2"/>
<polygon points="496.45,201 499.05,204.7 496.45,208.4 493.85,204.7" fill="#ff9366"/>
<text transform="translate(508.6,206.9) skewY(0.5) scale(0.1080,0.0950)" font-family="Liberation Sans" font-size="68" font-weight="normal" text-anchor="start" fill="#222" stroke="#222" stroke-width="2.2">DLAT+Max</text>
<line x1="489.3" y1="213.2" x2="503.6" y2="213.2" stroke="#ffc4cc" stroke-width="1.1"/>
<path d="M493.75,213.2H499.15M496.45,210.7V215.7" stroke="#ffb6c1" stroke-width="0.75" fill="none"/>
<text transform="translate(508.6,215.4) skewY(0.5) scale(0.1080,0.0950)" font-family="Liberation Sans" font-size="68" font-weight="normal" text-anchor="start" fill="#222" stroke="#222" stroke-width="2.2">RR+Max</text>
<text transform="translate(414.8,236.5) skewY(0.5) scale(0.1000,0.1030)" font-family="Liberation Serif" font-size="120" font-weight="bold" text-anchor="middle" fill="#2a2a2a">(b)</text>
<rect x="35.3" y="255.3" width="232.2" height="169.1" fill="none" stroke="#707070" stroke-width="1.05"/>
<path d="M45.8,287.49 L69.25,287.49 L92.7,287.49 L116.15,287.49 L139.6,287.49 L163.05,287.49 L186.5,287.49 L209.95,416.03 L233.4,416.03 L256.85,416.03" stroke="#ff0000" stroke-width="1.25" fill="none" stroke-linejoin="round"/>
<rect x="42.9" y="285.09" width="5.8" height="4.8" fill="#ff0000"/>
<rect x="66.35" y="285.09" width="5.8" height="4.8" fill="#ff0000"/>
<rect x="89.8" y="285.09" width="5.8" height="4.8" fill="#ff0000"/>
<rect x="113.25" y="285.09" width="5.8" height="4.8" fill="#ff0000"/>
<rect x="136.7" y="285.09" width="5.8" height="4.8" fill="#ff0000"/>
<rect x="160.15" y="285.09" width="5.8" height="4.8" fill="#ff0000"/>
<rect x="183.6" y="285.09" width="5.8" height="4.8" fill="#ff0000"/>
<rect x="207.05" y="413.63" width="5.8" height="4.8" fill="#ff0000"/>
<rect x="230.5" y="413.63" width="5.8" height="4.8" fill="#ff0000"/>
<rect x="253.95" y="413.63" width="5.8" height="4.8" fill="#ff0000"/>
<path d="M45.8,307.41 L69.25,307.41 L92.7,307.41 L116.15,307.41 L139.6,307.41 L163.05,307.41 L186.5,307.41 L209.95,412.82 L233.4,412.82 L256.85,412.82" stroke="#008000" stroke-width="1.0" fill="none" stroke-linejoin="round"/>
<polygon points="45.8,304.76 42.47,306.7 43.74,309.83 47.86,309.83 49.13,306.7" fill="#008000"/>
<polygon points="69.25,304.76 65.92,306.7 67.19,309.83 71.31,309.83 72.58,306.7" fill="#008000"/>
<polygon points="92.7,304.76 89.37,306.7 90.64,309.83 94.76,309.83 96.03,306.7" fill="#008000"/>
<polygon points="116.15,304.76 112.82,306.7 114.09,309.83 118.21,309.83 119.48,306.7" fill="#008000"/>
<polygon points="139.6,304.76 136.27,306.7 137.54,309.83 141.66,309.83 142.93,306.7" fill="#008000"/>
<polygon points="163.05,304.76 159.72,306.7 160.99,309.83 165.11,309.83 166.38,306.7" fill="#008000"/>
<polygon points="186.5,304.76 183.17,306.7 184.44,309.83 188.56,309.83 189.83,306.7" fill="#008000"/>
<polygon points="209.95,410.17 206.62,412.11 207.89,415.24 212.01,415.24 213.28,412.11" fill="#008000"/>
<polygon points="233.4,410.17 230.07,412.11 231.34,415.24 235.46,415.24 236.73,412.11" fill="#008000"/>
<polygon points="256.85,410.17 253.52,412.11 254.79,415.24 258.91,415.24 260.18,412.11" fill="#008000"/>
<path d="M186.5,262.88 L209.95,417.02 L233.4,417.02 L256.85,417.02" stroke="#00bfff" stroke-width="1.15" fill="none" stroke-linejoin="round"/>
<path d="M186.5,262.88V264.96M186.5,262.88L184.25,261.84M186.5,262.88L188.75,261.84" stroke="#00bfff" stroke-width="1" fill="none"/>
<path d="M209.95,417.02V419.1M209.95,417.02L207.7,415.98M209.95,417.02L212.2,415.98" stroke="#00bfff" stroke-width="1" fill="none"/>
<path d="M233.4,417.02V419.1M233.4,417.02L231.15,415.98M233.4,417.02L235.65,415.98" stroke="#00bfff" stroke-width="1" fill="none"/>
<path d="M256.85,417.02V419.1M256.85,417.02L254.6,415.98M256.85,417.02L259.1,415.98" stroke="#00bfff" stroke-width="1" fill="none"/>
<path d="M45.8,292.12 L69.25,292.12 L92.7,292.12 L116.15,292.12 L139.6,292.12 L163.05,292.12 L186.5,292.12 L209.95,410.29 L233.4,410.29 L256.85,410.29" stroke="#808080" stroke-width="0.95" fill="none" stroke-linejoin="round"/>
<ellipse cx="45.8" cy="292.12" rx="2.7" ry="2.24" fill="#808080"/>
<ellipse cx="69.25" cy="292.12" rx="2.7" ry="2.24" fill="#808080"/>
<ellipse cx="92.7" cy="292.12" rx="2.7" ry="2.24" fill="#808080"/>
<ellipse cx="116.15" cy="292.12" rx="2.7" ry="2.24" fill="#808080"/>
<ellipse cx="139.6" cy="292.12" rx="2.7" ry="2.24" fill="#808080"/>
<ellipse cx="163.05" cy="292.12" rx="2.7" ry="2.24" fill="#808080"/>
<ellipse cx="186.5" cy="292.12" rx="2.7" ry="2.24" fill="#808080"/>
<ellipse cx="209.95" cy="410.29" rx="2.7" ry="2.24" fill="#808080"/>
<ellipse cx="233.4" cy="410.29" rx="2.7" ry="2.24" fill="#808080"/>
<ellipse cx="256.85" cy="410.29" rx="2.7" ry="2.24" fill="#808080"/>
<path d="M45.8,290.76 L69.25,290.76 L92.7,290.76 L116.15,290.76 L139.6,290.76 L163.05,290.76 L186.5,290.76 L209.95,290.76 L233.4,290.76 L256.85,290.76" stroke="#ffa500" stroke-width="1.2" fill="none" stroke-linejoin="round"/>
<ellipse cx="45.8" cy="290.76" rx="3" ry="2.49" fill="#ffa500"/>
<ellipse cx="69.25" cy="290.76" rx="3" ry="2.49" fill="#ffa500"/>
<ellipse cx="92.7" cy="290.76" rx="3" ry="2.49" fill="#ffa500"/>
<ellipse cx="116.15" cy="290.76" rx="3" ry="2.49" fill="#ffa500"/>
<ellipse cx="139.6" cy="290.76" rx="3" ry="2.49" fill="#ffa500"/>
<ellipse cx="163.05" cy="290.76" rx="3" ry="2.49" fill="#ffa500"/>
<ellipse cx="186.5" cy="290.76" rx="3" ry="2.49" fill="#ffa500"/>
<ellipse cx="209.95" cy="290.76" rx="3" ry="2.49" fill="#ffa500"/>
<ellipse cx="233.4" cy="290.76" rx="3" ry="2.49" fill="#ffa500"/>
<ellipse cx="256.85" cy="290.76" rx="3" ry="2.49" fill="#ffa500"/>
<path d="M45.8,306.43 L69.25,306.43 L92.7,306.43 L116.15,306.43 L139.6,306.43 L163.05,306.43 L186.5,306.43 L209.95,306.43 L233.4,306.43 L256.85,306.43" stroke="#a52a2a" stroke-width="1.05" fill="none" stroke-linejoin="round"/>
<polygon points="45.8,303.99 44.83,305.56 42.66,305.81 44.23,307.03 43.86,308.76 45.8,307.95 47.74,308.76 47.37,307.03 48.94,305.81 46.77,305.56" fill="#a52a2a"/>
<polygon points="69.25,303.99 68.28,305.56 66.11,305.81 67.68,307.03 67.31,308.76 69.25,307.95 71.19,308.76 70.82,307.03 72.39,305.81 70.22,305.56" fill="#a52a2a"/>
<polygon points="92.7,303.99 91.73,305.56 89.56,305.81 91.13,307.03 90.76,308.76 92.7,307.95 94.64,308.76 94.27,307.03 95.84,305.81 93.67,305.56" fill="#a52a2a"/>
<polygon points="116.15,303.99 115.18,305.56 113.01,305.81 114.58,307.03 114.21,308.76 116.15,307.95 118.09,308.76 117.72,307.03 119.29,305.81 117.12,305.56" fill="#a52a2a"/>
<polygon points="139.6,303.99 138.63,305.56 136.46,305.81 138.03,307.03 137.66,308.76 139.6,307.95 141.54,308.76 141.17,307.03 142.74,305.81 140.57,305.56" fill="#a52a2a"/>
<polygon points="163.05,303.99 162.08,305.56 159.91,305.81 161.48,307.03 161.11,308.76 163.05,307.95 164.99,308.76 164.62,307.03 166.19,305.81 164.02,305.56" fill="#a52a2a"/>
<polygon points="186.5,303.99 185.53,305.56 183.36,305.81 184.93,307.03 184.56,308.76 186.5,307.95 188.44,308.76 188.07,307.03 189.64,305.81 187.47,305.56" fill="#a52a2a"/>
<polygon points="209.95,303.99 208.98,305.56 206.81,305.81 208.38,307.03 208.01,308.76 209.95,307.95 211.89,308.76 211.52,307.03 213.09,305.81 210.92,305.56" fill="#a52a2a"/>
<polygon points="233.4,303.99 232.43,305.56 230.26,305.81 231.83,307.03 231.46,308.76 233.4,307.95 235.34,308.76 234.97,307.03 236.54,305.81 234.37,305.56" fill="#a52a2a"/>
<polygon points="256.85,303.99 255.88,305.56 253.71,305.81 255.28,307.03 254.91,308.76 256.85,307.95 258.79,308.76 258.42,307.03 259.99,305.81 257.82,305.56" fill="#a52a2a"/>
<path d="M45.8,262.88 L69.25,262.88 L92.7,262.88 L116.15,262.88 L139.6,262.88 L163.05,262.88 L186.5,262.88 L209.95,262.88 L233.4,262.88 L256.85,262.88" stroke="#ffa888" stroke-width="1.2" fill="none" stroke-linejoin="round"/>
<polygon points="45.8,259.18 48.4,262.88 45.8,266.58 43.2,262.88" fill="#ff9366"/>
<polygon points="69.25,259.18 71.85,262.88 69.25,266.58 66.65,262.88" fill="#ff9366"/>
<polygon points="92.7,259.18 95.3,262.88 92.7,266.58 90.1,262.88" fill="#ff9366"/>
<polygon points="116.15,259.18 118.75,262.88 116.15,266.58 113.55,262.88" fill="#ff9366"/>
<polygon points="139.6,259.18 142.2,262.88 139.6,266.58 137,262.88" fill="#ff9366"/>
<polygon points="163.05,259.18 165.65,262.88 163.05,266.58 160.45,262.88" fill="#ff9366"/>
<polygon points="186.5,259.18 189.1,262.88 186.5,266.58 183.9,262.88" fill="#ff9366"/>
<polygon points="209.95,259.18 212.55,262.88 209.95,266.58 207.35,262.88" fill="#ff9366"/>
<polygon points="233.4,259.18 236,262.88 233.4,266.58 230.8,262.88" fill="#ff9366"/>
<polygon points="256.85,259.18 259.45,262.88 256.85,266.58 254.25,262.88" fill="#ff9366"/>
<path d="M45.8,291.62 L69.25,291.62 L92.7,291.62 L116.15,291.62 L139.6,291.62 L163.05,291.62 L186.5,291.62 L209.95,291.62 L233.4,291.62 L256.85,291.62" stroke="#ffc4cc" stroke-width="1.1" fill="none" stroke-linejoin="round"/>
<path d="M43.1,291.62H48.5M45.8,289.12V294.12" stroke="#ffb6c1" stroke-width="0.75" fill="none"/>
<path d="M66.55,291.62H71.95M69.25,289.12V294.12" stroke="#ffb6c1" stroke-width="0.75" fill="none"/>
<path d="M90,291.62H95.4M92.7,289.12V294.12" stroke="#ffb6c1" stroke-width="0.75" fill="none"/>
<path d="M113.45,291.62H118.85M116.15,289.12V294.12" stroke="#ffb6c1" stroke-width="0.75" fill="none"/>
<path d="M136.9,291.62H142.3M139.6,289.12V294.12" stroke="#ffb6c1" stroke-width="0.75" fill="none"/>
<path d="M160.35,291.62H165.75M163.05,289.12V294.12" stroke="#ffb6c1" stroke-width="0.75" fill="none"/>
<path d="M183.8,291.62H189.2M186.5,289.12V294.12" stroke="#ffb6c1" stroke-width="0.75" fill="none"/>
<path d="M207.25,291.62H212.65M209.95,289.12V294.12" stroke="#ffb6c1" stroke-width="0.75" fill="none"/>
<path d="M230.7,291.62H236.1M233.4,289.12V294.12" stroke="#ffb6c1" stroke-width="0.75" fill="none"/>
<path d="M254.15,291.62H259.55M256.85,289.12V294.12" stroke="#ffb6c1" stroke-width="0.75" fill="none"/>
<line x1="45.8" y1="424.4" x2="45.8" y2="426" stroke="#222" stroke-width="0.9"/>
<text transform="translate(45.8,432.6) skewY(0.5) scale(0.1060,0.0960)" font-family="Liberation Sans" font-size="70" font-weight="normal" text-anchor="middle" fill="#222" stroke="#222" stroke-width="2.2">0</text>
<line x1="92.7" y1="424.4" x2="92.7" y2="426" stroke="#222" stroke-width="0.9"/>
<text transform="translate(92.7,432.6) skewY(0.5) scale(0.1060,0.0960)" font-family="Liberation Sans" font-size="70" font-weight="normal" text-anchor="middle" fill="#222" stroke="#222" stroke-width="2.2">2</text>
<line x1="139.6" y1="424.4" x2="139.6" y2="426" stroke="#222" stroke-width="0.9"/>
<text transform="translate(139.6,432.6) skewY(0.5) scale(0.1060,0.0960)" font-family="Liberation Sans" font-size="70" font-weight="normal" text-anchor="middle" fill="#222" stroke="#222" stroke-width="2.2">4</text>
<line x1="186.5" y1="424.4" x2="186.5" y2="426" stroke="#222" stroke-width="0.9"/>
<text transform="translate(186.5,432.6) skewY(0.5) scale(0.1060,0.0960)" font-family="Liberation Sans" font-size="70" font-weight="normal" text-anchor="middle" fill="#222" stroke="#222" stroke-width="2.2">6</text>
<line x1="233.4" y1="424.4" x2="233.4" y2="426" stroke="#222" stroke-width="0.9"/>
<text transform="translate(233.4,432.6) skewY(0.5) scale(0.1060,0.0960)" font-family="Liberation Sans" font-size="70" font-weight="normal" text-anchor="middle" fill="#222" stroke="#222" stroke-width="2.2">8</text>
<line x1="35.3" y1="419.3" x2="33.7" y2="419.3" stroke="#222" stroke-width="0.9"/>
<text transform="translate(31.4,422) skewY(0.5) scale(0.1060,0.0960)" font-family="Liberation Sans" font-size="70" font-weight="normal" text-anchor="end" fill="#222" stroke="#222" stroke-width="2.2">500</text>
<line x1="35.3" y1="388.46" x2="33.7" y2="388.46" stroke="#222" stroke-width="0.9"/>
<text transform="translate(31.4,391.16) skewY(0.5) scale(0.1060,0.0960)" font-family="Liberation Sans" font-size="70" font-weight="normal" text-anchor="end" fill="#222" stroke="#222" stroke-width="2.2">1000</text>
<line x1="35.3" y1="357.62" x2="33.7" y2="357.62" stroke="#222" stroke-width="0.9"/>
<text transform="translate(31.4,360.32) skewY(0.5) scale(0.1060,0.0960)" font-family="Liberation Sans" font-size="70" font-weight="normal" text-anchor="end" fill="#222" stroke="#222" stroke-width="2.2">1500</text>
<line x1="35.3" y1="326.78" x2="33.7" y2="326.78" stroke="#222" stroke-width="0.9"/>
<text transform="translate(31.4,329.48) skewY(0.5) scale(0.1060,0.0960)" font-family="Liberation Sans" font-size="70" font-weight="normal" text-anchor="end" fill="#222" stroke="#222" stroke-width="2.2">2000</text>
<line x1="35.3" y1="295.94" x2="33.7" y2="295.94" stroke="#222" stroke-width="0.9"/>
<text transform="translate(31.4,298.64) skewY(0.5) scale(0.1060,0.0960)" font-family="Liberation Sans" font-size="70" font-weight="normal" text-anchor="end" fill="#222" stroke="#222" stroke-width="2.2">2500</text>
<line x1="35.3" y1="265.1" x2="33.7" y2="265.1" stroke="#222" stroke-width="0.9"/>
<text transform="translate(31.4,267.8) skewY(0.5) scale(0.1060,0.0960)" font-family="Liberation Sans" font-size="70" font-weight="normal" text-anchor="end" fill="#222" stroke="#222" stroke-width="2.2">3000</text>
<text transform="translate(11.4,339.8) rotate(-89.7) scale(0.0840,0.1000)" font-family="Liberation Sans" font-size="85" font-weight="normal" text-anchor="middle" fill="#222" stroke="#222" stroke-width="3">Average Buffer of A_UAV</text>
<text transform="translate(151,440.6) skewY(0.5) scale(0.1200,0.0950)" font-family="Liberation Sans" font-size="75" font-weight="normal" text-anchor="middle" fill="#222" stroke="#222" stroke-width="2.2">log<tspan font-size="52.5" dy="16">10</tspan><tspan dy="-16">(</tspan>V)</text>
<rect x="28.2" y="453.1" width="242.6" height="17.8" fill="#fff" stroke="#d9d9d9" stroke-width="0.8" rx="1"/>
<line x1="30.5" y1="457.6" x2="44.9" y2="457.6" stroke="#ff0000" stroke-width="1.25"/>
<rect x="34.8" y="455.2" width="5.8" height="4.8" fill="#ff0000"/>
<text transform="translate(50,459.8) skewY(0.5) scale(0.1080,0.0950)" font-family="Liberation Sans" font-size="68" font-weight="normal" text-anchor="start" fill="#222" stroke="#222" stroke-width="2.2">HDLAT</text>
<line x1="30.5" y1="465.8" x2="44.9" y2="465.8" stroke="#008000" stroke-width="1.0"/>
<polygon points="37.7,463.15 34.37,465.08 35.64,468.22 39.76,468.22 41.03,465.08" fill="#008000"/>
<text transform="translate(50,468) skewY(0.5) scale(0.1080,0.0950)" font-family="Liberation Sans" font-size="68" font-weight="normal" text-anchor="start" fill="#222" stroke="#222" stroke-width="2.2">DAT</text>
<line x1="85.5" y1="457.6" x2="99.9" y2="457.6" stroke="#00bfff" stroke-width="1.15"/>
<path d="M92.7,457.6V459.68M92.7,457.6L90.45,456.56M92.7,457.6L94.95,456.56" stroke="#00bfff" stroke-width="1" fill="none"/>
<text transform="translate(104.9,459.8) skewY(0.5) scale(0.1080,0.0950)" font-family="Liberation Sans" font-size="68" font-weight="normal" text-anchor="start" fill="#222" stroke="#222" stroke-width="2.2">DLAT</text>
<line x1="85.5" y1="465.8" x2="99.9" y2="465.8" stroke="#808080" stroke-width="0.95"/>
<ellipse cx="92.7" cy="465.8" rx="2.7" ry="2.24" fill="#808080"/>
<text transform="translate(104.9,468) skewY(0.5) scale(0.1080,0.0950)" font-family="Liberation Sans" font-size="68" font-weight="normal" text-anchor="start" fill="#222" stroke="#222" stroke-width="2.2">RR</text>
<line x1="135.5" y1="457.6" x2="149.9" y2="457.6" stroke="#ffa500" stroke-width="1.2"/>
<ellipse cx="142.7" cy="457.6" rx="3" ry="2.49" fill="#ffa500"/>
<text transform="translate(154.7,459.8) skewY(0.5) scale(0.1080,0.0950)" font-family="Liberation Sans" font-size="68" font-weight="normal" text-anchor="start" fill="#222" stroke="#222" stroke-width="2.2">HDLAT  +Max</text>
<line x1="135.5" y1="465.8" x2="149.9" y2="465.8" stroke="#a52a2a" stroke-width="1.05"/>
<polygon points="142.7,463.36 141.73,464.93 139.56,465.18 141.13,466.41 140.76,468.14 142.7,467.32 144.64,468.14 144.27,466.41 145.84,465.18 143.67,464.93" fill="#a52a2a"/>
<text transform="translate(154.7,468) skewY(0.5) scale(0.1080,0.0950)" font-family="Liberation Sans" font-size="68" font-weight="normal" text-anchor="start" fill="#222" stroke="#222" stroke-width="2.2">DAT  +Max</text>
<line x1="211.6" y1="457.6" x2="226" y2="457.6" stroke="#ffa888" stroke-width="1.2"/>
<polygon points="218.8,453.9 221.4,457.6 218.8,461.3 216.2,457.6" fill="#ff9366"/>
<text transform="translate(231.9,459.8) skewY(0.5) scale(0.1080,0.0950)" font-family="Liberation Sans" font-size="68" font-weight="normal" text-anchor="start" fill="#222" stroke="#222" stroke-width="2.2">DLAT+Max</text>
<line x1="211.6" y1="465.8" x2="226" y2="465.8" stroke="#ffc4cc" stroke-width="1.1"/>
<path d="M216.1,465.8H221.5M218.8,463.3V468.3" stroke="#ffb6c1" stroke-width="0.75" fill="none"/>
<text transform="translate(231.9,468) skewY(0.5) scale(0.1080,0.0950)" font-family="Liberation Sans" font-size="68" font-weight="normal" text-anchor="start" fill="#222" stroke="#222" stroke-width="2.2">RR+Max</text>
<text transform="translate(136.2,489.4) skewY(0.5) scale(0.1000,0.1030)" font-family="Liberation Serif" font-size="120" font-weight="bold" text-anchor="middle" fill="#2a2a2a">(c)</text>
<rect x="306.3" y="259.8" width="238.1" height="165.5" fill="none" stroke="#707070" stroke-width="1.05"/>
<path d="M317.2,384.16 L338.81,384.16 L360.42,384.16 L382.03,384.16 L403.64,384.16 L425.25,384.16 L446.86,384.16 L468.47,341.1 L490.08,357.61 L511.69,350.77 L533.3,350.09" stroke="#ff0000" stroke-width="1.25" fill="none" stroke-linejoin="round"/>
<rect x="314.3" y="381.76" width="5.8" height="4.8" fill="#ff0000"/>
<rect x="335.91" y="381.76" width="5.8" height="4.8" fill="#ff0000"/>
<rect x="357.52" y="381.76" width="5.8" height="4.8" fill="#ff0000"/>
<rect x="379.13" y="381.76" width="5.8" height="4.8" fill="#ff0000"/>
<rect x="400.74" y="381.76" width="5.8" height="4.8" fill="#ff0000"/>
<rect x="422.35" y="381.76" width="5.8" height="4.8" fill="#ff0000"/>
<rect x="443.96" y="381.76" width="5.8" height="4.8" fill="#ff0000"/>
<rect x="465.57" y="338.7" width="5.8" height="4.8" fill="#ff0000"/>
<rect x="487.18" y="355.21" width="5.8" height="4.8" fill="#ff0000"/>
<rect x="508.79" y="348.37" width="5.8" height="4.8" fill="#ff0000"/>
<rect x="530.4" y="347.69" width="5.8" height="4.8" fill="#ff0000"/>
<path d="M317.2,292.19 L338.81,292.19 L360.42,292.19 L382.03,292.19 L403.64,292.19 L425.25,292.19 L446.86,292.19 L468.47,267.3 L490.08,267.3 L511.69,267.3 L533.3,267.3" stroke="#008000" stroke-width="1.0" fill="none" stroke-linejoin="round"/>
<polygon points="317.2,289.54 313.87,291.47 315.14,294.6 319.26,294.6 320.53,291.47" fill="#008000"/>
<polygon points="338.81,289.54 335.48,291.47 336.75,294.6 340.87,294.6 342.14,291.47" fill="#008000"/>
<polygon points="360.42,289.54 357.09,291.47 358.36,294.6 362.48,294.6 363.75,291.47" fill="#008000"/>
<polygon points="382.03,289.54 378.7,291.47 379.97,294.6 384.09,294.6 385.36,291.47" fill="#008000"/>
<polygon points="403.64,289.54 400.31,291.47 401.58,294.6 405.7,294.6 406.97,291.47" fill="#008000"/>
<polygon points="425.25,289.54 421.92,291.47 423.19,294.6 427.31,294.6 428.58,291.47" fill="#008000"/>
<polygon points="446.86,289.54 443.53,291.47 444.8,294.6 448.92,294.6 450.19,291.47" fill="#008000"/>
<polygon points="468.47,264.65 465.14,266.58 466.41,269.72 470.53,269.72 471.8,266.58" fill="#008000"/>
<polygon points="490.08,264.65 486.75,266.58 488.02,269.72 492.14,269.72 493.41,266.58" fill="#008000"/>
<polygon points="511.69,264.65 508.36,266.58 509.63,269.72 513.75,269.72 515.02,266.58" fill="#008000"/>
<polygon points="533.3,264.65 529.97,266.58 531.24,269.72 535.36,269.72 536.63,266.58" fill="#008000"/>
<path d="M446.86,397.03 L468.47,393.89 L490.08,393.89 L511.69,393.89 L533.3,393.89" stroke="#00bfff" stroke-width="1.15" fill="none" stroke-linejoin="round"/>
<path d="M446.86,397.03V399.11M446.86,397.03L444.61,395.99M446.86,397.03L449.11,395.99" stroke="#00bfff" stroke-width="1" fill="none"/>
<path d="M468.47,393.89V395.97M468.47,393.89L466.22,392.85M468.47,393.89L470.72,392.85" stroke="#00bfff" stroke-width="1" fill="none"/>
<path d="M490.08,393.89V395.97M490.08,393.89L487.83,392.85M490.08,393.89L492.33,392.85" stroke="#00bfff" stroke-width="1" fill="none"/>
<path d="M511.69,393.89V395.97M511.69,393.89L509.44,392.85M511.69,393.89L513.94,392.85" stroke="#00bfff" stroke-width="1" fill="none"/>
<path d="M533.3,393.89V395.97M533.3,393.89L531.05,392.85M533.3,393.89L535.55,392.85" stroke="#00bfff" stroke-width="1" fill="none"/>
<path d="M317.2,417.91 L338.81,417.91 L360.42,417.91 L382.03,417.91 L403.64,417.91 L425.25,417.91 L446.86,417.91 L468.47,417.6 L490.08,417.6 L511.69,417.6 L533.3,417.6" stroke="#808080" stroke-width="0.95" fill="none" stroke-linejoin="round"/>
<ellipse cx="317.2" cy="417.91" rx="2.7" ry="2.24" fill="#808080"/>
<ellipse cx="338.81" cy="417.91" rx="2.7" ry="2.24" fill="#808080"/>
<ellipse cx="360.42" cy="417.91" rx="2.7" ry="2.24" fill="#808080"/>
<ellipse cx="382.03" cy="417.91" rx="2.7" ry="2.24" fill="#808080"/>
<ellipse cx="403.64" cy="417.91" rx="2.7" ry="2.24" fill="#808080"/>
<ellipse cx="425.25" cy="417.91" rx="2.7" ry="2.24" fill="#808080"/>
<ellipse cx="446.86" cy="417.91" rx="2.7" ry="2.24" fill="#808080"/>
<ellipse cx="468.47" cy="417.6" rx="2.7" ry="2.24" fill="#808080"/>
<ellipse cx="490.08" cy="417.6" rx="2.7" ry="2.24" fill="#808080"/>
<ellipse cx="511.69" cy="417.6" rx="2.7" ry="2.24" fill="#808080"/>
<ellipse cx="533.3" cy="417.6" rx="2.7" ry="2.24" fill="#808080"/>
<path d="M317.2,392.22 L338.81,392.22 L360.42,392.22 L382.03,392.22 L403.64,392.22 L425.25,392.22 L446.86,392.22 L468.47,392.22 L490.08,392.22 L511.69,392.22 L533.3,392.22" stroke="#ffa500" stroke-width="1.2" fill="none" stroke-linejoin="round"/>
<ellipse cx="317.2" cy="392.22" rx="3" ry="2.49" fill="#ffa500"/>
<ellipse cx="338.81" cy="392.22" rx="3" ry="2.49" fill="#ffa500"/>
<ellipse cx="360.42" cy="392.22" rx="3" ry="2.49" fill="#ffa500"/>
<ellipse cx="382.03" cy="392.22" rx="3" ry="2.49" fill="#ffa500"/>
<ellipse cx="403.64" cy="392.22" rx="3" ry="2.49" fill="#ffa500"/>
<ellipse cx="425.25" cy="392.22" rx="3" ry="2.49" fill="#ffa500"/>
<ellipse cx="446.86" cy="392.22" rx="3" ry="2.49" fill="#ffa500"/>
<ellipse cx="468.47" cy="392.22" rx="3" ry="2.49" fill="#ffa500"/>
<ellipse cx="490.08" cy="392.22" rx="3" ry="2.49" fill="#ffa500"/>
<ellipse cx="511.69" cy="392.22" rx="3" ry="2.49" fill="#ffa500"/>
<ellipse cx="533.3" cy="392.22" rx="3" ry="2.49" fill="#ffa500"/>
<path d="M317.2,294.71 L338.81,294.71 L360.42,294.71 L382.03,294.71 L403.64,294.71 L425.25,294.71 L446.86,294.71 L468.47,294.71 L490.08,294.71 L511.69,294.71 L533.3,294.71" stroke="#a52a2a" stroke-width="1.05" fill="none" stroke-linejoin="round"/>
<polygon points="317.2,292.27 316.23,293.84 314.06,294.1 315.63,295.32 315.26,297.05 317.2,296.23 319.14,297.05 318.77,295.32 320.34,294.1 318.17,293.84" fill="#a52a2a"/>
<polygon points="338.81,292.27 337.84,293.84 335.67,294.1 337.24,295.32 336.87,297.05 338.81,296.23 340.75,297.05 340.38,295.32 341.95,294.1 339.78,293.84" fill="#a52a2a"/>
<polygon points="360.42,292.27 359.45,293.84 357.28,294.1 358.85,295.32 358.48,297.05 360.42,296.23 362.36,297.05 361.99,295.32 363.56,294.1 361.39,293.84" fill="#a52a2a"/>
<polygon points="382.03,292.27 381.06,293.84 378.89,294.1 380.46,295.32 380.09,297.05 382.03,296.23 383.97,297.05 383.6,295.32 385.17,294.1 383,293.84" fill="#a52a2a"/>
<polygon points="403.64,292.27 402.67,293.84 400.5,294.1 402.07,295.32 401.7,297.05 403.64,296.23 405.58,297.05 405.21,295.32 406.78,294.1 404.61,293.84" fill="#a52a2a"/>
<polygon points="425.25,292.27 424.28,293.84 422.11,294.1 423.68,295.32 423.31,297.05 425.25,296.23 427.19,297.05 426.82,295.32 428.39,294.1 426.22,293.84" fill="#a52a2a"/>
<polygon points="446.86,292.27 445.89,293.84 443.72,294.1 445.29,295.32 444.92,297.05 446.86,296.23 448.8,297.05 448.43,295.32 450,294.1 447.83,293.84" fill="#a52a2a"/>
<polygon points="468.47,292.27 467.5,293.84 465.33,294.1 466.9,295.32 466.53,297.05 468.47,296.23 470.41,297.05 470.04,295.32 471.61,294.1 469.44,293.84" fill="#a52a2a"/>
<polygon points="490.08,292.27 489.11,293.84 486.94,294.1 488.51,295.32 488.14,297.05 490.08,296.23 492.02,297.05 491.65,295.32 493.22,294.1 491.05,293.84" fill="#a52a2a"/>
<polygon points="511.69,292.27 510.72,293.84 508.55,294.1 510.12,295.32 509.75,297.05 511.69,296.23 513.63,297.05 513.26,295.32 514.83,294.1 512.66,293.84" fill="#a52a2a"/>
<polygon points="533.3,292.27 532.33,293.84 530.16,294.1 531.73,295.32 531.36,297.05 533.3,296.23 535.24,297.05 534.87,295.32 536.44,294.1 534.27,293.84" fill="#a52a2a"/>
<path d="M317.2,397.03 L338.81,397.03 L360.42,397.03 L382.03,397.03 L403.64,397.03 L425.25,397.03 L446.86,397.03 L468.47,397.03 L490.08,397.03 L511.69,397.03 L533.3,397.03" stroke="#ffa888" stroke-width="1.2" fill="none" stroke-linejoin="round"/>
<polygon points="317.2,393.33 319.8,397.03 317.2,400.73 314.6,397.03" fill="#ff9366"/>
<polygon points="338.81,393.33 341.41,397.03 338.81,400.73 336.21,397.03" fill="#ff9366"/>
<polygon points="360.42,393.33 363.02,397.03 360.42,400.73 357.82,397.03" fill="#ff9366"/>
<polygon points="382.03,393.33 384.63,397.03 382.03,400.73 379.43,397.03" fill="#ff9366"/>
<polygon points="403.64,393.33 406.24,397.03 403.64,400.73 401.04,397.03" fill="#ff9366"/>
<polygon points="425.25,393.33 427.85,397.03 425.25,400.73 422.65,397.03" fill="#ff9366"/>
<polygon points="446.86,393.33 449.46,397.03 446.86,400.73 444.26,397.03" fill="#ff9366"/>
<polygon points="468.47,393.33 471.07,397.03 468.47,400.73 465.87,397.03" fill="#ff9366"/>
<polygon points="490.08,393.33 492.68,397.03 490.08,400.73 487.48,397.03" fill="#ff9366"/>
<polygon points="511.69,393.33 514.29,397.03 511.69,400.73 509.09,397.03" fill="#ff9366"/>
<polygon points="533.3,393.33 535.9,397.03 533.3,400.73 530.7,397.03" fill="#ff9366"/>
<path d="M317.2,417.91 L338.81,417.91 L360.42,417.91 L382.03,417.91 L403.64,417.91 L425.25,417.91 L446.86,417.91 L468.47,417.6 L490.08,417.6 L511.69,417.6 L533.3,417.6" stroke="#ffc4cc" stroke-width="1.1" fill="none" stroke-linejoin="round"/>
<path d="M314.5,417.91H319.9M317.2,415.41V420.41" stroke="#ffb6c1" stroke-width="0.75" fill="none"/>
<path d="M336.11,417.91H341.51M338.81,415.41V420.41" stroke="#ffb6c1" stroke-width="0.75" fill="none"/>
<path d="M357.72,417.91H363.12M360.42,415.41V420.41" stroke="#ffb6c1" stroke-width="0.75" fill="none"/>
<path d="M379.33,417.91H384.73M382.03,415.41V420.41" stroke="#ffb6c1" stroke-width="0.75" fill="none"/>
<path d="M400.94,417.91H406.34M403.64,415.41V420.41" stroke="#ffb6c1" stroke-width="0.75" fill="none"/>
<path d="M422.55,417.91H427.95M425.25,415.41V420.41" stroke="#ffb6c1" stroke-width="0.75" fill="none"/>
<path d="M444.16,417.91H449.56M446.86,415.41V420.41" stroke="#ffb6c1" stroke-width="0.75" fill="none"/>
<path d="M465.77,417.6H471.17M468.47,415.1V420.1" stroke="#ffb6c1" stroke-width="0.75" fill="none"/>
<path d="M487.38,417.6H492.78M490.08,415.1V420.1" stroke="#ffb6c1" stroke-width="0.75" fill="none"/>
<path d="M508.99,417.6H514.39M511.69,415.1V420.1" stroke="#ffb6c1" stroke-width="0.75" fill="none"/>
<path d="M530.6,417.6H536M533.3,415.1V420.1" stroke="#ffb6c1" stroke-width="0.75" fill="none"/>
<line x1="317.2" y1="425.3" x2="317.2" y2="426.9" stroke="#222" stroke-width="0.9"/>
<text transform="translate(317.2,433.4) skewY(0.5) scale(0.1060,0.0960)" font-family="Liberation Sans" font-size="70" font-weight="normal" text-anchor="middle" fill="#222" stroke="#222" stroke-width="2.2">0</text>
<line x1="360.42" y1="425.3" x2="360.42" y2="426.9" stroke="#222" stroke-width="0.9"/>
<text transform="translate(360.42,433.4) skewY(0.5) scale(0.1060,0.0960)" font-family="Liberation Sans" font-size="70" font-weight="normal" text-anchor="middle" fill="#222" stroke="#222" stroke-width="2.2">2</text>
<line x1="403.64" y1="425.3" x2="403.64" y2="426.9" stroke="#222" stroke-width="0.9"/>
<text transform="translate(403.64,433.4) skewY(0.5) scale(0.1060,0.0960)" font-family="Liberation Sans" font-size="70" font-weight="normal" text-anchor="middle" fill="#222" stroke="#222" stroke-width="2.2">4</text>
<line x1="446.86" y1="425.3" x2="446.86" y2="426.9" stroke="#222" stroke-width="0.9"/>
<text transform="translate(446.86,433.4) skewY(0.5) scale(0.1060,0.0960)" font-family="Liberation Sans" font-size="70" font-weight="normal" text-anchor="middle" fill="#222" stroke="#222" stroke-width="2.2">6</text>
<line x1="490.08" y1="425.3" x2="490.08" y2="426.9" stroke="#222" stroke-width="0.9"/>
<text transform="translate(490.08,433.4) skewY(0.5) scale(0.1060,0.0960)" font-family="Liberation Sans" font-size="70" font-weight="normal" text-anchor="middle" fill="#222" stroke="#222" stroke-width="2.2">8</text>
<line x1="533.3" y1="425.3" x2="533.3" y2="426.9" stroke="#222" stroke-width="0.9"/>
<text transform="translate(533.3,433.4) skewY(0.5) scale(0.1060,0.0960)" font-family="Liberation Sans" font-size="70" font-weight="normal" text-anchor="middle" fill="#222" stroke="#222" stroke-width="2.2">10</text>
<line x1="306.3" y1="421.3" x2="304.7" y2="421.3" stroke="#222" stroke-width="0.9"/>
<text transform="translate(301.8,424) skewY(0.5) scale(0.1060,0.0960)" font-family="Liberation Sans" font-size="70" font-weight="normal" text-anchor="end" fill="#222" stroke="#222" stroke-width="2.2">0.0</text>
<line x1="306.3" y1="390.5" x2="304.7" y2="390.5" stroke="#222" stroke-width="0.9"/>
<text transform="translate(301.8,393.2) skewY(0.5) scale(0.1060,0.0960)" font-family="Liberation Sans" font-size="70" font-weight="normal" text-anchor="end" fill="#222" stroke="#222" stroke-width="2.2">0.5</text>
<line x1="306.3" y1="359.7" x2="304.7" y2="359.7" stroke="#222" stroke-width="0.9"/>
<text transform="translate(301.8,362.4) skewY(0.5) scale(0.1060,0.0960)" font-family="Liberation Sans" font-size="70" font-weight="normal" text-anchor="end" fill="#222" stroke="#222" stroke-width="2.2">1.0</text>
<line x1="306.3" y1="328.9" x2="304.7" y2="328.9" stroke="#222" stroke-width="0.9"/>
<text transform="translate(301.8,331.6) skewY(0.5) scale(0.1060,0.0960)" font-family="Liberation Sans" font-size="70" font-weight="normal" text-anchor="end" fill="#222" stroke="#222" stroke-width="2.2">1.5</text>
<line x1="306.3" y1="298.1" x2="304.7" y2="298.1" stroke="#222" stroke-width="0.9"/>
<text transform="translate(301.8,300.8) skewY(0.5) scale(0.1060,0.0960)" font-family="Liberation Sans" font-size="70" font-weight="normal" text-anchor="end" fill="#222" stroke="#222" stroke-width="2.2">2.0</text>
<line x1="306.3" y1="267.3" x2="304.7" y2="267.3" stroke="#222" stroke-width="0.9"/>
<text transform="translate(301.8,270) skewY(0.5) scale(0.1060,0.0960)" font-family="Liberation Sans" font-size="70" font-weight="normal" text-anchor="end" fill="#222" stroke="#222" stroke-width="2.2">2.5</text>
<text transform="translate(306.8,258) skewY(0.5) scale(0.1120,0.0880)" font-family="Liberation Sans" font-size="53" font-weight="normal" text-anchor="start" fill="#222" stroke="#222" stroke-width="2.5">×10<tspan font-size="36" dy="-20">4</tspan></text>
<text transform="translate(287.9,342.3) rotate(-89.7) scale(0.0840,0.1000)" font-family="Liberation Sans" font-size="85" font-weight="normal" text-anchor="middle" fill="#222" stroke="#222" stroke-width="3">Average Hovering Energy (J)</text>
<text transform="translate(425,441.3) skewY(0.5) scale(0.1200,0.0950)" font-family="Liberation Sans" font-size="75" font-weight="normal" text-anchor="middle" fill="#222" stroke="#222" stroke-width="2.2">log<tspan font-size="52.5" dy="16">10</tspan><tspan dy="-16">(</tspan>V)</text>
<rect x="299.2" y="453.5" width="249.4" height="17.5" fill="#fff" stroke="#d9d9d9" stroke-width="0.8" rx="1"/>
<line x1="302" y1="457.9" x2="316.5" y2="457.9" stroke="#ff0000" stroke-width="1.25"/>
<rect x="306.35" y="455.5" width="5.8" height="4.8" fill="#ff0000"/>
<text transform="translate(321.6,460.1) skewY(0.5) scale(0.1080,0.0950)" font-family="Liberation Sans" font-size="68" font-weight="normal" text-anchor="start" fill="#222" stroke="#222" stroke-width="2.2">HDLAT</text>
<line x1="302" y1="466.2" x2="316.5" y2="466.2" stroke="#008000" stroke-width="1.0"/>
<polygon points="309.25,463.55 305.92,465.48 307.19,468.62 311.31,468.62 312.58,465.48" fill="#008000"/>
<text transform="translate(321.6,468.4) skewY(0.5) scale(0.1080,0.0950)" font-family="Liberation Sans" font-size="68" font-weight="normal" text-anchor="start" fill="#222" stroke="#222" stroke-width="2.2">DAT</text>
<line x1="358.1" y1="457.9" x2="372.6" y2="457.9" stroke="#00bfff" stroke-width="1.15"/>
<path d="M365.35,457.9V459.98M365.35,457.9L363.1,456.86M365.35,457.9L367.6,456.86" stroke="#00bfff" stroke-width="1" fill="none"/>
<text transform="translate(377.9,460.1) skewY(0.5) scale(0.1080,0.0950)" font-family="Liberation Sans" font-size="68" font-weight="normal" text-anchor="start" fill="#222" stroke="#222" stroke-width="2.2">DLAT</text>
<line x1="358.1" y1="466.2" x2="372.6" y2="466.2" stroke="#808080" stroke-width="0.95"/>
<ellipse cx="365.35" cy="466.2" rx="2.7" ry="2.24" fill="#808080"/>
<text transform="translate(377.9,468.4) skewY(0.5) scale(0.1080,0.0950)" font-family="Liberation Sans" font-size="68" font-weight="normal" text-anchor="start" fill="#222" stroke="#222" stroke-width="2.2">RR</text>
<line x1="408.7" y1="457.9" x2="423.2" y2="457.9" stroke="#ffa500" stroke-width="1.2"/>
<ellipse cx="415.95" cy="457.9" rx="3" ry="2.49" fill="#ffa500"/>
<text transform="translate(428.6,460.1) skewY(0.5) scale(0.1080,0.0950)" font-family="Liberation Sans" font-size="68" font-weight="normal" text-anchor="start" fill="#222" stroke="#222" stroke-width="2.2">HDLAT  +Max</text>
<line x1="408.7" y1="466.2" x2="423.2" y2="466.2" stroke="#a52a2a" stroke-width="1.05"/>
<polygon points="415.95,463.76 414.98,465.33 412.81,465.58 414.38,466.81 414.01,468.54 415.95,467.72 417.89,468.54 417.52,466.81 419.09,465.58 416.92,465.33" fill="#a52a2a"/>
<text transform="translate(428.6,468.4) skewY(0.5) scale(0.1080,0.0950)" font-family="Liberation Sans" font-size="68" font-weight="normal" text-anchor="start" fill="#222" stroke="#222" stroke-width="2.2">DAT  +Max</text>
<line x1="487.3" y1="457.9" x2="501.8" y2="457.9" stroke="#ffa888" stroke-width="1.2"/>
<polygon points="494.55,454.2 497.15,457.9 494.55,461.6 491.95,457.9" fill="#ff9366"/>
<text transform="translate(507.2,460.1) skewY(0.5) scale(0.1080,0.0950)" font-family="Liberation Sans" font-size="68" font-weight="normal" text-anchor="start" fill="#222" stroke="#222" stroke-width="2.2">DLAT+Max</text>
<line x1="487.3" y1="466.2" x2="501.8" y2="466.2" stroke="#ffc4cc" stroke-width="1.1"/>
<path d="M491.85,466.2H497.25M494.55,463.7V468.7" stroke="#ffb6c1" stroke-width="0.75" fill="none"/>
<text transform="translate(507.2,468.4) skewY(0.5) scale(0.1080,0.0950)" font-family="Liberation Sans" font-size="68" font-weight="normal" text-anchor="start" fill="#222" stroke="#222" stroke-width="2.2">RR+Max</text>
<text transform="translate(416,488.8) skewY(0.5) scale(0.1000,0.1030)" font-family="Liberation Serif" font-size="120" font-weight="bold" text-anchor="middle" fill="#2a2a2a">(d)</text></g></svg>
</body></html>
